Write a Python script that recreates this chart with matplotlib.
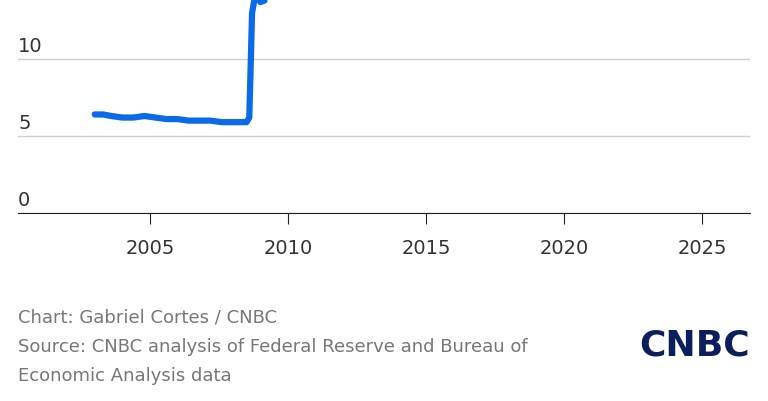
import matplotlib.pyplot as plt

years = [2003.0, 2003.3, 2003.6, 2004.0, 2004.4, 2004.8, 2005.2, 2005.6, 2006.0, 2006.4,
         2006.8, 2007.2, 2007.6, 2008.0, 2008.3, 2008.5, 2008.6, 2008.7, 2008.85, 2009.0, 2009.15]
values = [6.4, 6.4, 6.3, 6.2, 6.2, 6.3, 6.2, 6.1, 6.1, 6.0,
          6.0, 6.0, 5.9, 5.9, 5.9, 5.9, 6.2, 13.0, 14.5, 13.7, 13.8]
yticks = [0, 5, 10]
xticks = [2005, 2010, 2015, 2020, 2025]

fig = plt.figure(figsize=(7.68, 4.02), dpi=100)
ax = fig.add_axes([18/768, 1 - 214/402, 732/768, 214/402])
ax.plot(years, values, color='#0a6ae8', lw=4.5, solid_capstyle='round', clip_on=False)
ax.set_xlim(2000.22, 2026.74)
ax.set_ylim(0, 13.9)
ax.set_yticks(yticks)
ax.set_xticks(xticks)
ax.grid(axis='y', color='#d0d0d0', lw=1)
ax.set_axisbelow(True)
for s in ['top', 'right', 'left']:
    ax.spines[s].set_visible(False)
ax.spines['bottom'].set_color('#222222')
ax.tick_params(axis='y', length=0, labelsize=14, colors='#333333', pad=0)
for lbl in ax.get_yticklabels():
    lbl.set_horizontalalignment('left')
    lbl.set_verticalalignment('bottom')
ax.tick_params(axis='x', length=8, color='#222222', labelsize=14, colors='#333333', pad=10)
ax.yaxis.set_tick_params(pad=0)
import matplotlib.transforms as mt
for lbl in ax.get_yticklabels():
    lbl.set_transform(lbl.get_transform() + mt.ScaledTranslation(0, 4/100, fig.dpi_scale_trans))

fig.text(18/768, 1 - 318/402, "Chart: Gabriel Cortes / CNBC", fontsize=13, color='#777777', va='center')
fig.text(18/768, 1 - 347/402, "Source: CNBC analysis of Federal Reserve and Bureau of", fontsize=13, color='#777777', va='center')
fig.text(18/768, 1 - 376/402, "Economic Analysis data", fontsize=13, color='#777777', va='center')
fig.text(750/768, 1 - 346/402, "CNBC", fontsize=26, fontweight='bold', color='#0b1f5c', ha='right', va='center')
fig.savefig('out.png', dpi=100)
